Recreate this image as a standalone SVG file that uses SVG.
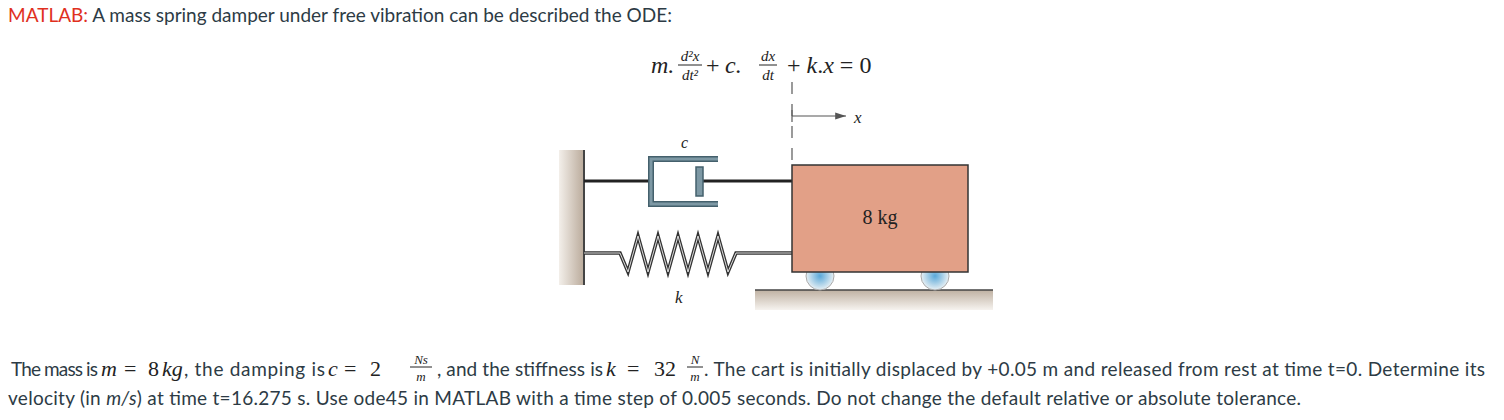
<svg xmlns="http://www.w3.org/2000/svg" width="1504" height="420" viewBox="0 0 1504 420">
<style>
.t{font-family:Lato,"Liberation Sans",sans-serif;font-size:19px;fill:#2d3b45}
.m{font-family:"Liberation Serif",serif;font-style:italic;fill:#222}
.r{font-family:"Liberation Serif",serif;fill:#222}
</style>
<defs><marker id="ah" markerWidth="10" markerHeight="8" refX="9" refY="4" orient="auto"><path d="M0,1 L9,4 L0,7 Z" fill="#555"/></marker>
<linearGradient id="wall" x1="0" x2="1"><stop offset="0" stop-color="#f3efea"/><stop offset="1" stop-color="#b8a898"/></linearGradient>
<linearGradient id="gr" y1="0" y2="1" x1="0" x2="0"><stop offset="0" stop-color="#bfb1a2"/><stop offset="1" stop-color="#f6f3ef"/></linearGradient>
<radialGradient id="wh"><stop offset="0" stop-color="#5aa8d8"/><stop offset="1" stop-color="#e8f0f4"/></radialGradient></defs>
<text x="8" y="22" class="t"><tspan fill="#e0301e">MATLAB:</tspan> A mass spring damper under free vibration can be described the ODE:</text>
<g id="eq">
<text x="651" y="73" class="m" font-size="24">m<tspan class="r">.</tspan></text>
<text x="690" y="61" class="m" font-size="15" text-anchor="middle">d²x</text>
<line x1="678" y1="65" x2="702" y2="65" stroke="#222" stroke-width="1"/>
<text x="690" y="80" class="m" font-size="15" text-anchor="middle">dt²</text>
<text x="706" y="73" class="r" font-size="24">+</text>
<text x="725" y="73" class="m" font-size="24">c<tspan class="r">.</tspan></text>
<text x="768" y="61" class="m" font-size="15" text-anchor="middle">dx</text>
<line x1="759" y1="65" x2="777" y2="65" stroke="#222" stroke-width="1"/>
<text x="768" y="80" class="m" font-size="15" text-anchor="middle">dt</text>
<text x="787" y="73" class="r" font-size="24">+ <tspan class="m">k</tspan>.<tspan class="m">x</tspan> = 0</text>
</g>
<g id="scene">
<line x1="792" y1="82" x2="792" y2="160" stroke="#666" stroke-width="1.3" stroke-dasharray="12,10"/>
<line x1="792" y1="110" x2="792" y2="122" stroke="#666" stroke-width="1.3"/>
<line x1="792" y1="116" x2="846" y2="116" stroke="#555" stroke-width="1.2" marker-end="url(#ah)"/>
<text x="854" y="123" class="m" font-size="17">x</text>
<text x="681" y="148" class="m" font-size="16">c</text>
<rect x="559" y="150" width="26" height="135" fill="url(#wall)"/>
<line x1="584" y1="150" x2="584" y2="285" stroke="#444" stroke-width="2"/>
<rect x="755" y="290" width="238" height="20" fill="url(#gr)"/>
<line x1="755" y1="290" x2="993" y2="290" stroke="#444" stroke-width="1.5"/>
<line x1="584" y1="181" x2="651" y2="181" stroke="#222" stroke-width="3"/>
<line x1="700" y1="181" x2="792" y2="181" stroke="#222" stroke-width="3"/>
<path d="M718,159 H651 V204 H718" fill="none" stroke="#44606c" stroke-width="6"/>
<path d="M718,159 H651 V204 H718" fill="none" stroke="#7d98a4" stroke-width="3"/>
<rect x="696" y="167" width="7" height="29" fill="#7d98a4" stroke="#44606c" stroke-width="1.5"/>
<path d="M584,253 H620 L628,272 L638,236 L648,272 L658,236 L668,272 L678,236 L688,272 L698,236 L708,272 L718,236 L728,272 L736,253 H792" fill="none" stroke="#333" stroke-width="3.5"/>
<path d="M584,253 H620 L628,272 L638,236 L648,272 L658,236 L668,272 L678,236 L688,272 L698,236 L708,272 L718,236 L728,272 L736,253 H792" fill="none" stroke="#ddd" stroke-width="1"/>
<circle cx="820" cy="276" r="14" fill="url(#wh)" stroke="#aaa"/>
<circle cx="935" cy="276" r="14" fill="url(#wh)" stroke="#aaa"/>
<rect x="792" y="165" width="176" height="107" fill="#e2a087" stroke="#333" stroke-width="1.5"/>
<text x="880" y="224" class="r" font-size="20" text-anchor="middle">8 kg</text>
<text x="675" y="303" class="m" font-size="17">k</text>
</g>
<g id="para">
<text x="11" y="376" class="t" textLength="87">The mass is</text>
<text x="101" y="376" class="m" font-size="22">m</text>
<text x="124" y="376" class="r" font-size="22">=</text>
<text x="148" y="376" class="r" font-size="22">8</text>
<text x="162" y="376" class="m" font-size="22">kg</text>
<text x="184" y="376" class="t" textLength="141">, the damping is</text>
<text x="328" y="376" class="m" font-size="22">c</text>
<text x="344" y="376" class="r" font-size="22">=</text>
<text x="370" y="376" class="r" font-size="22">2</text>
<text x="421" y="364" class="m" font-size="13" text-anchor="middle">Ns</text>
<line x1="410" y1="367" x2="432" y2="367" stroke="#222"/>
<text x="421" y="381" class="m" font-size="13" text-anchor="middle">m</text>
<text x="437" y="376" class="t" textLength="166">, and the stiffness is</text>
<text x="606" y="376" class="m" font-size="22">k</text>
<text x="627" y="376" class="r" font-size="22">=</text>
<text x="654" y="376" class="r" font-size="22">32</text>
<text x="695" y="364" class="m" font-size="13" text-anchor="middle">N</text>
<line x1="687" y1="367" x2="703" y2="367" stroke="#222"/>
<text x="695" y="381" class="m" font-size="13" text-anchor="middle">m</text>
<text x="704" y="376" class="t" textLength="781">. The cart is initially displaced by +0.05 m and released from rest at time t=0. Determine its</text>
<text x="8" y="405" class="t" textLength="1293">velocity (in <tspan font-style="italic">m/s</tspan>) at time t=16.275 s. Use ode45 in MATLAB with a time step of 0.005 seconds. Do not change the default relative or absolute tolerance.</text>
</g>
</svg>
